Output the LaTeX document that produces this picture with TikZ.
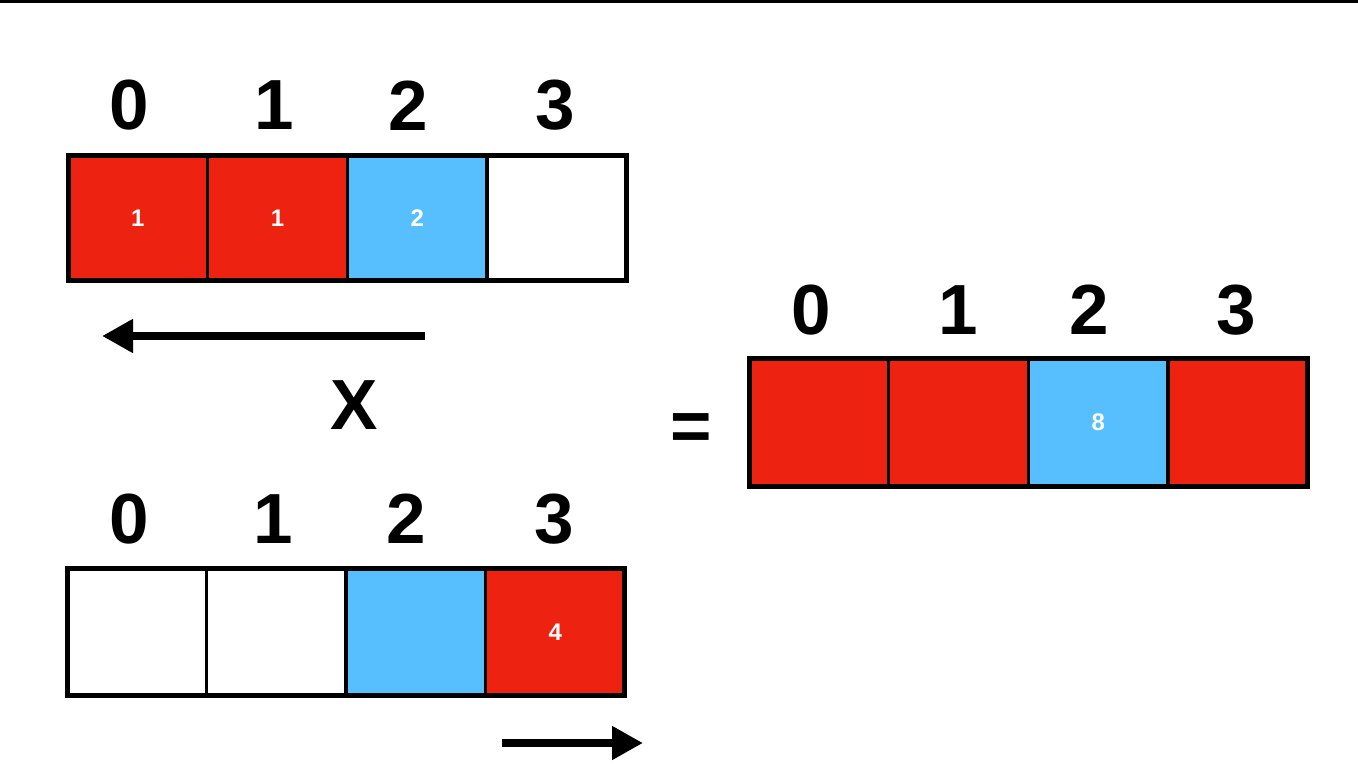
\documentclass[tikz,border=0pt]{standalone}
\usepackage{fontspec}
\setmainfont{Liberation Sans}
\usetikzlibrary{arrows.meta}
\definecolor{cred}{HTML}{EE2210}
\definecolor{cblue}{HTML}{57BFFE}
\tikzset{
  cellbox/.style={draw=black, line width=3.5pt, minimum width=139.75pt, inner sep=0pt, text=white, font=\fontsize{24}{24}\selectfont\bfseries},
  idx/.style={inner sep=0pt, font=\fontsize{71}{71}\selectfont\bfseries},
  frame/.style={draw=black, line width=5pt},
  bigarrow/.style={line width=8pt, -{Triangle[length=31pt,width=32pt]}}
}
\begin{document}
\begin{tikzpicture}[x=1pt,y=-1pt]
\useasboundingbox (0,0) rectangle (1358,766);
\fill[white] (0,0) rectangle (1358,766);
\draw[line width=2.5pt] (0,1.25) -- (1358,1.25);

% top array
\node[cellbox, fill=cred, minimum height=126pt] (t0) at (137.9,218) {1};
\node[cellbox, fill=cred, minimum height=126pt] (t1) at (277.6,218) {1};
\node[cellbox, fill=cblue, minimum height=126pt] (t2) at (417.4,218) {2};
\node[cellbox, fill=white, minimum height=126pt] (t3) at (557.1,218) {};
\draw[frame] ([shift={(2.5,2.5)}]t0.north west) rectangle ([shift={(-2.5,-2.5)}]t3.south east);
\node[idx] (tl0) at (129,105.5) {0};
\node[idx] (tl1) at (274,105.5) {1};
\node[idx] (tl2) at (408,105.5) {2};
\node[idx] (tl3) at (555,105.5) {3};

\coordinate (ta1) at (425,336);
\coordinate (ta2) at (102,336);
\draw[bigarrow] (ta1) -- (ta2);

\node[idx] (times) at (354,405) {X};
\node[idx] (eq) at (691,432) {=};

% right array
\node[cellbox, fill=cred, minimum height=129pt] (r0) at (818.9,422.5) {};
\node[cellbox, fill=cred, minimum height=129pt] (r1) at (958.6,422.5) {};
\node[cellbox, fill=cblue, minimum height=129pt] (r2) at (1098.4,422.5) {8};
\node[cellbox, fill=cred, minimum height=129pt] (r3) at (1238.1,422.5) {};
\draw[frame] ([shift={(2.5,2.5)}]r0.north west) rectangle ([shift={(-2.5,-2.5)}]r3.south east);
\node[idx] (rl0) at (811,310) {0};
\node[idx] (rl1) at (958,310) {1};
\node[idx] (rl2) at (1089,310) {2};
\node[idx] (rl3) at (1236,310) {3};

% bottom array
\node[cellbox, fill=white, minimum height=128pt, minimum width=139.5pt] (b0) at (136.75,632) {};
\node[cellbox, fill=white, minimum height=128pt, minimum width=139.5pt] (b1) at (276.25,632) {};
\node[cellbox, fill=cblue, minimum height=128pt, minimum width=139.5pt] (b2) at (415.75,632) {};
\node[cellbox, fill=cred, minimum height=128pt, minimum width=139.5pt] (b3) at (555.25,632) {4};
\draw[frame] ([shift={(2.5,2.5)}]b0.north west) rectangle ([shift={(-2.5,-2.5)}]b3.south east);
\node[idx] (bl0) at (129,519) {0};
\node[idx] (bl1) at (273,519) {1};
\node[idx] (bl2) at (406,519) {2};
\node[idx] (bl3) at (554,519) {3};

\coordinate (ba1) at (502,743);
\coordinate (ba2) at (643,743);
\draw[bigarrow] (ba1) -- (ba2);
\end{tikzpicture}
\end{document}
